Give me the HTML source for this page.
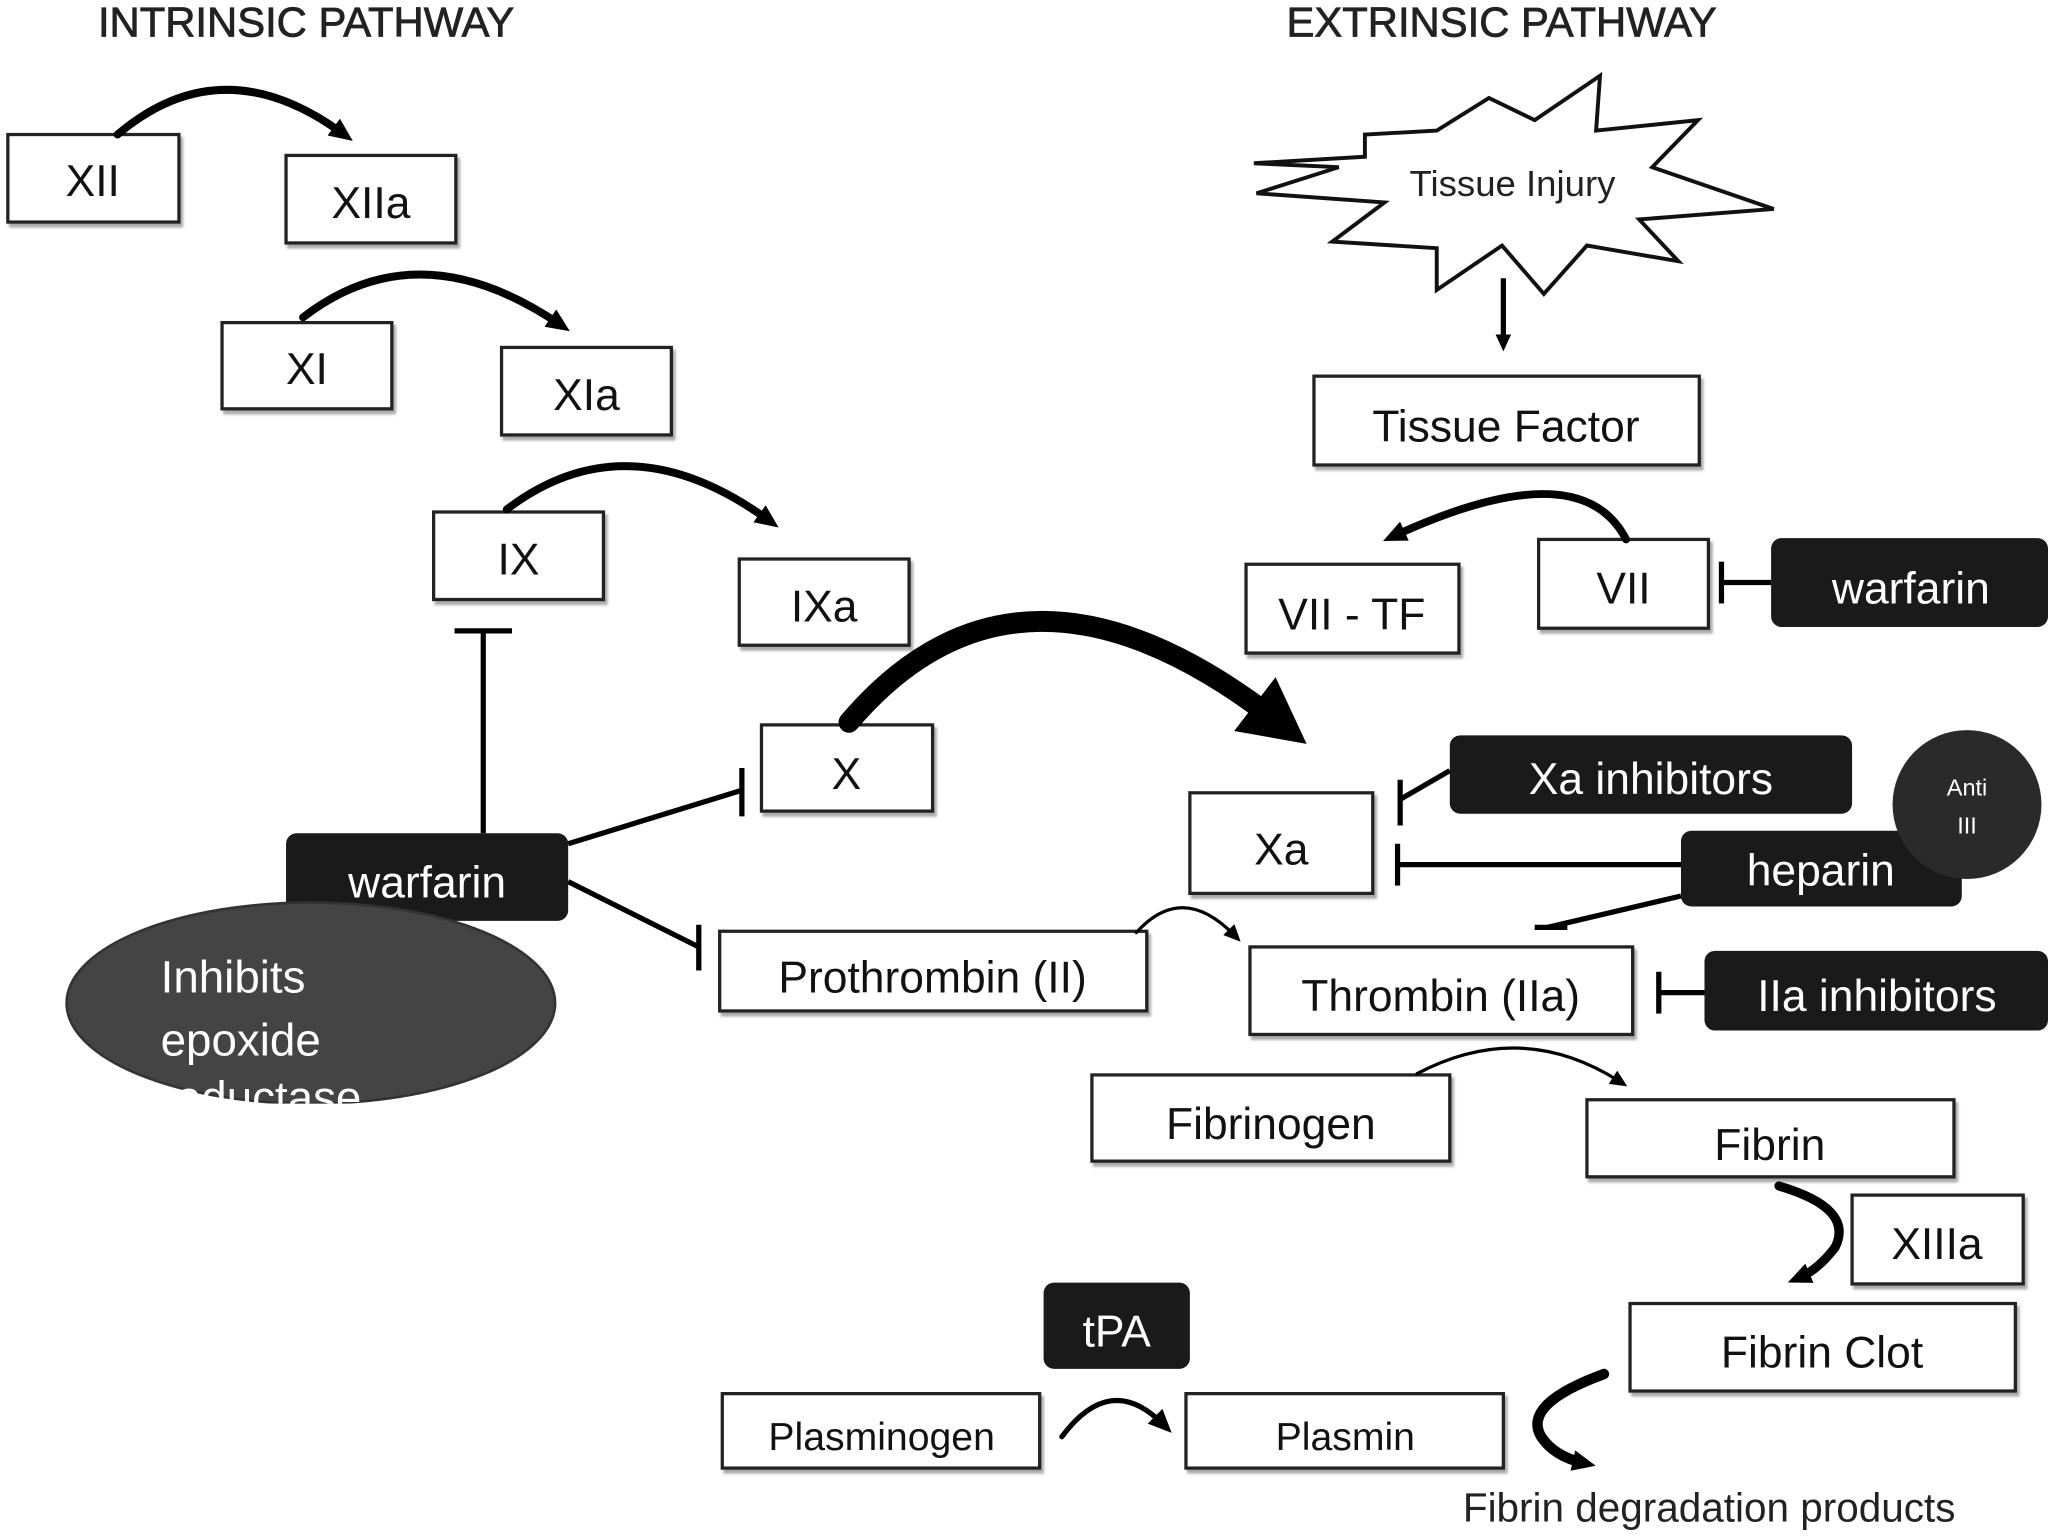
<!DOCTYPE html>
<html><head><meta charset="utf-8"><style>
html,body{margin:0;padding:0;background:#fff;width:2048px;height:1536px;overflow:hidden}
svg{display:block}
text{font-family:"Liberation Sans",sans-serif}
</style></head><body>
<svg width="2048" height="1536" viewBox="0 0 1568 1176" xmlns="http://www.w3.org/2000/svg">
<defs>
<marker id="am" markerWidth="20" markerHeight="20" refX="8" refY="10" orient="auto" markerUnits="userSpaceOnUse"><path d="M0,2 L18,10 L0,18 z" fill="#000"/></marker>
<marker id="as" markerWidth="14" markerHeight="14" refX="6" refY="7" orient="auto" markerUnits="userSpaceOnUse"><path d="M0,1 L13,7 L0,13 z" fill="#000"/></marker>
<marker id="ab" markerWidth="56" markerHeight="56" refX="18" refY="28" orient="auto" markerUnits="userSpaceOnUse"><path d="M0,2 L50,28 L0,54 z" fill="#000"/></marker>
<clipPath id="ec"><rect x="0" y="600" width="600" height="245"/></clipPath>
</defs>
<g font-size="32" fill="#222" stroke="#222" stroke-width="0.6">
<text x="75" y="28">INTRINSIC PATHWAY</text>
<text x="985" y="28">EXTRINSIC PATHWAY</text>
</g>
<polygon points="1045,103 1100,100 1140,75 1175,92 1225,58 1222,100 1300,92 1265,128 1358,160 1255,168 1285,200 1215,188 1182,225 1150,188 1100,222 1100,190 1020,185 1060,155 962,148 1025,128 960,125 1045,120" fill="#fff" stroke="#111" stroke-width="3"/>
<text x="1158" y="150" font-size="28" text-anchor="middle" fill="#222">Tissue Injury</text>
<line x1="1151" y1="213" x2="1151" y2="262" stroke="#000" stroke-width="4" marker-end="url(#as)"/>
<g fill="#fff" stroke="#222" stroke-width="2.5" style="filter:drop-shadow(2px 3px 1px #aaa)">
<rect x="6" y="103" width="131" height="67"/>
<rect x="219" y="119" width="130" height="67"/>
<rect x="170" y="247" width="130" height="66"/>
<rect x="384" y="266" width="130" height="67"/>
<rect x="332" y="392" width="130" height="67"/>
<rect x="566" y="428" width="130" height="66"/>
<rect x="583" y="555" width="131" height="66"/>
<rect x="551" y="713" width="327" height="61"/>
<rect x="911" y="607" width="140" height="77"/>
<rect x="1006" y="288" width="295" height="68"/>
<rect x="954" y="432" width="163" height="68"/>
<rect x="1178" y="413" width="130" height="68"/>
<rect x="957" y="725" width="293" height="67"/>
<rect x="836" y="823" width="274" height="66"/>
<rect x="1215" y="842" width="281" height="59"/>
<rect x="1418" y="915" width="131" height="68"/>
<rect x="1248" y="998" width="295" height="67"/>
<rect x="553" y="1067" width="243" height="57"/>
<rect x="908" y="1067" width="243" height="57"/>
</g>
<g font-size="34" fill="#111" text-anchor="middle">
<text x="71" y="150">XII</text>
<text x="284" y="167">XIIa</text>
<text x="235" y="294">XI</text>
<text x="449" y="314">XIa</text>
<text x="397" y="440">IX</text>
<text x="631" y="476">IXa</text>
<text x="648" y="604">X</text>
<text x="714" y="760">Prothrombin (II)</text>
<text x="981" y="662">Xa</text>
<text x="1153" y="338">Tissue Factor</text>
<text x="1035" y="482">VII - TF</text>
<text x="1243" y="462">VII</text>
<text x="1103" y="774">Thrombin (IIa)</text>
<text x="973" y="872">Fibrinogen</text>
<text x="1355" y="888">Fibrin</text>
<text x="1483" y="964">XIIIa</text>
<text x="1395" y="1047">Fibrin Clot</text>
<text x="675" y="1110" font-size="30">Plasminogen</text>
<text x="1030" y="1110" font-size="30">Plasmin</text>
</g>
<g fill="#1a1a1a">
<rect x="219" y="638" width="216" height="67" rx="8"/>
<rect x="1356" y="412" width="212" height="68" rx="8"/>
<rect x="1110" y="563" width="308" height="60" rx="8"/>
<rect x="1287" y="636" width="215" height="58" rx="8"/>
<rect x="1305" y="728" width="263" height="61" rx="8"/>
<rect x="799" y="982" width="112" height="66" rx="8"/>
<circle cx="1506" cy="616" r="57" fill="#2a2a2a"/>
</g>
<g font-size="34" fill="#fff" text-anchor="middle">
<text x="327" y="687">warfarin</text>
<text x="1463" y="462">warfarin</text>
<text x="1264" y="608">Xa inhibitors</text>
<text x="1394" y="678">heparin</text>
<text x="1437" y="774">IIa inhibitors</text>
<text x="855" y="1031">tPA</text>
<text x="1506" y="609" font-size="18">Anti</text>
<text x="1506" y="638" font-size="18">III</text>
</g>
<g clip-path="url(#ec)">
<ellipse cx="238" cy="768" rx="187" ry="77" fill="#444" stroke="#333" stroke-width="2"/>
<g font-size="35" fill="#fff">
<text x="123" y="760">Inhibits</text>
<text x="123" y="808">epoxide</text>
<text x="123" y="852">reductase</text>
</g>
</g>
<g fill="none" stroke="#000" stroke-linecap="round">
<path d="M90,103 Q170,35 262,102" stroke-width="6" marker-end="url(#am)"/>
<path d="M232,243 Q320,175 428,248" stroke-width="6" marker-end="url(#am)"/>
<path d="M388,390 Q480,320 588,398" stroke-width="6" marker-end="url(#am)"/>
<path d="M1245,413 Q1210,345 1068,410" stroke-width="6" marker-end="url(#am)"/>
<path d="M650,553 Q780,400 975,550" stroke-width="16" marker-end="url(#ab)"/>
<path d="M870,714 Q905,675 945,716" stroke-width="2.5" marker-end="url(#as)"/>
<path d="M1085,822 Q1165,780 1240,828" stroke-width="2.5" marker-end="url(#as)"/>
<path d="M813,1100 Q850,1050 890,1090" stroke-width="4" marker-end="url(#am)"/>
<path d="M1362,908 Q1420,925 1405,955 Q1392,972 1378,978" stroke-width="7" marker-end="url(#am)"/>
<path d="M1228,1052 Q1165,1075 1180,1100 Q1190,1115 1212,1120" stroke-width="8" marker-end="url(#am)"/>
</g>
<g stroke="#000" stroke-width="4" fill="none">
<line x1="370" y1="638" x2="370" y2="483"/><line x1="348" y1="483" x2="392" y2="483"/>
<line x1="435" y1="646" x2="568" y2="605"/><line x1="568" y1="588" x2="568" y2="625"/>
<line x1="435" y1="675" x2="535" y2="725"/><line x1="535" y1="708" x2="535" y2="743"/>
<line x1="1356" y1="446" x2="1318" y2="446"/><line x1="1318" y1="430" x2="1318" y2="462"/>
<line x1="1110" y1="590" x2="1072" y2="612"/><line x1="1072" y1="597" x2="1072" y2="632"/>
<line x1="1287" y1="662" x2="1070" y2="662"/><line x1="1070" y1="646" x2="1070" y2="678"/>
<line x1="1287" y1="686" x2="1185" y2="710"/><line x1="1175" y1="710" x2="1200" y2="710"/>
<line x1="1305" y1="760" x2="1270" y2="760"/><line x1="1270" y1="744" x2="1270" y2="776"/>
</g>
<text x="1120" y="1165" font-size="31" fill="#222">Fibrin degradation products</text>
</svg>
</body></html>
